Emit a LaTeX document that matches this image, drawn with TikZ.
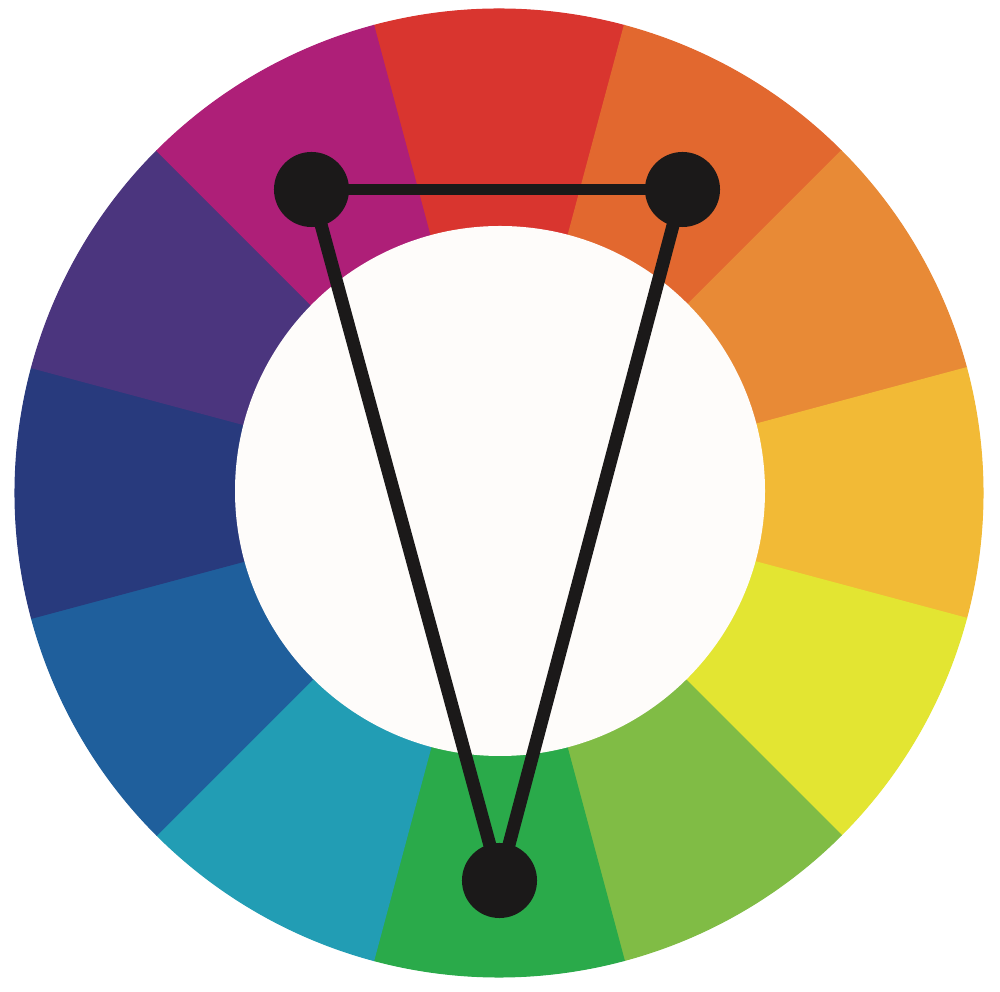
\documentclass[tikz,border=0pt]{standalone}
\usetikzlibrary{calc}
\definecolor{cRed}{HTML}{D9352F}
\definecolor{cRedOrange}{HTML}{E2682F}
\definecolor{cOrange}{HTML}{E88A36}
\definecolor{cYellowOrange}{HTML}{F2BA36}
\definecolor{cYellow}{HTML}{E3E532}
\definecolor{cYellowGreen}{HTML}{80BC45}
\definecolor{cGreen}{HTML}{2AAA4A}
\definecolor{cBlueGreen}{HTML}{229DB4}
\definecolor{cBlue}{HTML}{1F5F9C}
\definecolor{cBlueViolet}{HTML}{283A7D}
\definecolor{cViolet}{HTML}{4B357E}
\definecolor{cRedViolet}{HTML}{AE1F78}
\definecolor{cInk}{HTML}{1B1919}
\definecolor{cHole}{HTML}{FEFCFA}
\begin{document}
\begin{tikzpicture}[x=0.01cm,y=-0.01cm,
  dot/.style={circle,fill=cInk,draw=none,minimum size=0.75cm,inner sep=0pt},
  link/.style={draw=cInk,line width=0.13cm},
  hlink/.style={draw=cInk,line width=0.11cm}]
\useasboundingbox (0,0) rectangle (1000,992);
\fill[white] (0,0) rectangle (1000,992);
\coordinate (C) at (499,493);
\foreach \a/\c in {255/cRed,285/cRedOrange,315/cOrange,345/cYellowOrange,15/cYellow,45/cYellowGreen,75/cGreen,105/cBlueGreen,135/cBlue,165/cBlueViolet,195/cViolet,225/cRedViolet}{
  \fill[\c,draw=\c,line width=0.3pt] (C) -- ++(\a:484) arc[start angle=\a,end angle=\a+30,radius=484] -- cycle;
}
\fill[cHole] (500,491) circle[radius=265];
\node[dot] (a) at (311.5,189.5) {};
\node[dot] (b) at (682.5,189.5) {};
\node[dot] (g) at (499.5,880.5) {};
\draw[hlink] (a.center) -- (b.center);
\draw[link] (a.center) -- (g.center);
\draw[link] (b.center) -- (g.center);
\end{tikzpicture}
\end{document}
